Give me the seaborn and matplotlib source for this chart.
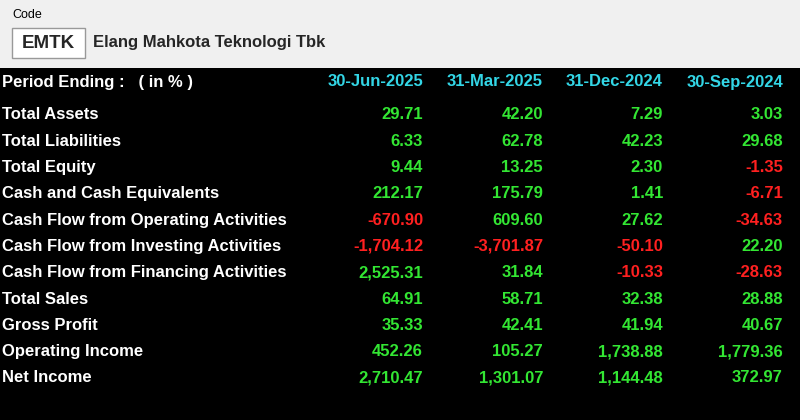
import numpy as np
import matplotlib
matplotlib.use("Agg")
import matplotlib.pyplot as plt
import seaborn as sns
from matplotlib.patches import Rectangle

code = "EMTK"
company = "Elang Mahkota Teknologi Tbk"
periods = ["30-Jun-2025", "31-Mar-2025", "31-Dec-2024", "30-Sep-2024"]
metrics = ["Total Assets", "Total Liabilities", "Total Equity", "Cash and Cash Equivalents",
           "Cash Flow from Operating Activities", "Cash Flow from Investing Activities",
           "Cash Flow from Financing Activities", "Total Sales", "Gross Profit",
           "Operating Income", "Net Income"]
jun25 = [29.71, 6.33, 9.44, 212.17, -670.90, -1704.12, 2525.31, 64.91, 35.33, 452.26, 2710.47]
mar25 = [42.20, 62.78, 13.25, 175.79, 609.60, -3701.87, 31.84, 58.71, 42.41, 105.27, 1301.07]
dec24 = [7.29, 42.23, 2.30, 1.41, 27.62, -50.10, -10.33, 32.38, 41.94, 1738.88, 1144.48]
sep24 = [3.03, 29.68, -1.35, -6.71, -34.63, 22.20, -28.63, 28.88, 40.67, 1779.36, 372.97]
values = np.array([jun25, mar25, dec24, sep24]).T

sns.set_style("white")
plt.rcParams['font.family'] = ['Liberation Sans', 'DejaVu Sans']

W, H = 800, 420
fig = plt.figure(figsize=(8, 4.2), dpi=100)
fig.patch.set_facecolor("#f0f0f0")

# header band
fig.text(12/W, 1-15/H, "Code", fontsize=9, va="center", ha="left", color="black")
fig.patches.append(Rectangle((12/W, 1-58/H), 73/W, 30/H, transform=fig.transFigure,
                             facecolor="white", edgecolor="#999999", lw=1))
fig.text(48/W, 1-43/H, code, fontsize=13.5, fontweight="bold", va="center", ha="center")
fig.text(93/W, 1-43/H, company, fontsize=12, fontweight="bold", va="center", ha="left")

# black background
bg = fig.add_axes([0, 0, 1, 1-68/H])
bg.set_facecolor("black"); bg.set_xticks([]); bg.set_yticks([])
for s in bg.spines.values(): s.set_visible(False)

rowh = 26.3
top = 115 - rowh/2
n = len(metrics)
ax = fig.add_axes([0, 1-(top+n*rowh)/H, 1, n*rowh/H])
sns.heatmap(np.zeros((n, 1)), cmap=["black"], cbar=False, ax=ax,
            xticklabels=False, yticklabels=False, linewidths=0)
ax.set_xlim(0, 1)

col_x = [423/W, 543/W, 663/W, 783/W]
fs = 12
green, red, cyan = "#33e633", "#ff2020", "#33d6e6"
bg.text(2/W, 1-(82-68)/(H-68), "Period Ending :   ( in % )", color="white", fontsize=fs,
        fontweight="bold", va="center", ha="left", transform=bg.transAxes)
for x, p in zip(col_x, periods):
    bg.text(x, 1-(82-68)/(H-68), p, color=cyan, fontsize=fs, fontweight="bold",
            va="center", ha="right", transform=bg.transAxes)

for i, m in enumerate(metrics):
    ax.text(2/W, i+0.5, m, color="white", fontsize=fs, fontweight="bold", va="center", ha="left")
    for j, x in enumerate(col_x):
        v = values[i, j]
        ax.text(x, i+0.5, f"{v:,.2f}", color=green if v >= 0 else red, fontsize=fs,
                fontweight="bold", va="center", ha="right")

fig.savefig("out.png", dpi=100, facecolor=fig.get_facecolor())
